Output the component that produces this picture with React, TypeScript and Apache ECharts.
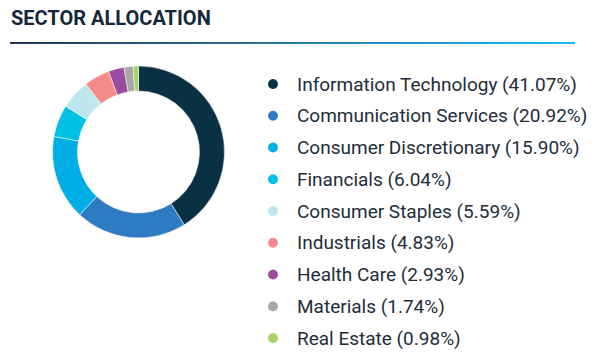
import React, { useEffect, useRef } from "react";
import * as echarts from "echarts";

const sectors = [
  "Information Technology",
  "Communication Services",
  "Consumer Discretionary",
  "Financials",
  "Consumer Staples",
  "Industrials",
  "Health Care",
  "Materials",
  "Real Estate",
];
const weights = [41.07, 20.92, 15.9, 6.04, 5.59, 4.83, 2.93, 1.74, 0.98];
const colors = [
  "#0a3044",
  "#2e7bc4",
  "#00aee6",
  "#00c2e2",
  "#bfe6ef",
  "#f48b88",
  "#9b4a9d",
  "#a7a7a7",
  "#a8d36c",
];
const titleText = "SECTOR ALLOCATION";

export default function App() {
  const ref = useRef<HTMLDivElement>(null);
  useEffect(() => {
    if (!ref.current) return;
    const chart = echarts.init(ref.current, undefined, { renderer: "svg" });
    const data = sectors.map((name, i) => ({
      name,
      value: weights[i],
      itemStyle: { color: colors[i] },
    }));
    chart.setOption({
      animation: false,
      backgroundColor: "#ffffff",
      title: {
        text: titleText,
        left: 6,
        top: 3,
        textStyle: {
          fontFamily: "Roboto",
          fontWeight: "bold",
          fontSize: 20,
          color: "#14283a",
        },
      },
      graphic: [
        {
          type: "rect",
          shape: { x: 10, y: 42, width: 565, height: 2 },
          style: {
            fill: new echarts.graphic.LinearGradient(0, 0, 1, 0, [
              { offset: 0, color: "#24364f" },
              { offset: 0.5, color: "#2b77a8" },
              { offset: 1, color: "#17bcef" },
            ]),
          },
        },
      ],
      legend: {
        orient: "vertical",
        left: 261,
        top: 69,
        icon: "circle",
        itemWidth: 42,
        itemHeight: 12,
        itemGap: 11.75,
        selectedMode: false,
        formatter: (name: string) => {
          const i = sectors.indexOf(name);
          return `${name} (${weights[i].toFixed(2)}%)`;
        },
        textStyle: {
          fontFamily: "Roboto",
          fontSize: 19,
          lineHeight: 20,
          color: "#222d3b",
          padding: [0, 0, 0, -2],
        },
        data: sectors,
      },
      series: [
        {
          type: "pie",
          center: [138.5, 152],
          radius: [61, 86],
          startAngle: 90,
          clockwise: true,
          label: { show: false },
          labelLine: { show: false },
          emphasis: { disabled: true },
          itemStyle: { borderColor: "#ffffff", borderWidth: 0.5 },
          data,
        },
      ],
    });
    return () => chart.dispose();
  }, []);
  return (
    <div
      ref={ref}
      style={{ position: "fixed", left: 0, top: 0, width: 606, height: 364 }}
    />
  );
}
